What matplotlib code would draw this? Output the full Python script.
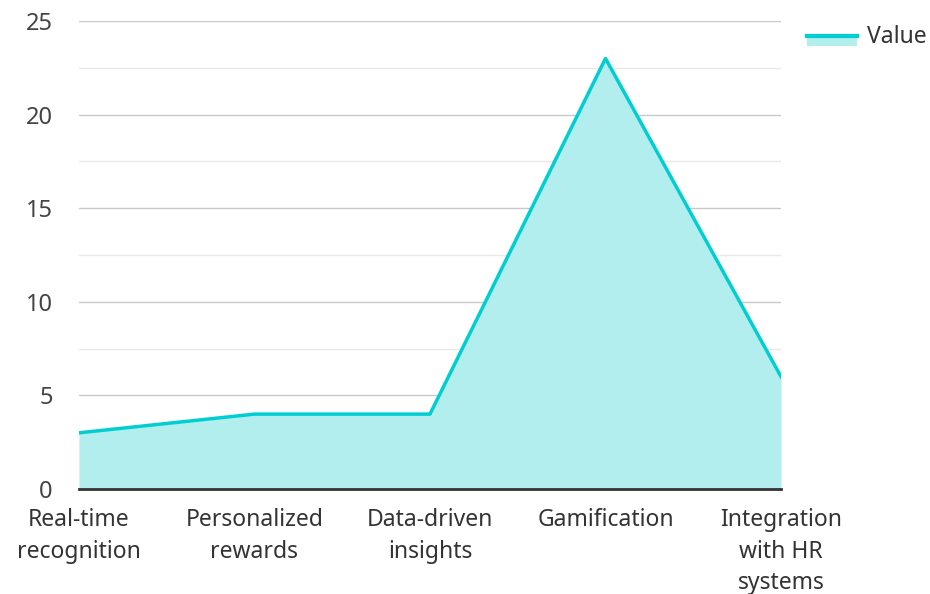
import matplotlib.pyplot as plt
from matplotlib.lines import Line2D
from matplotlib.patches import Patch, Rectangle

plt.rcParams['font.family'] = ['Noto Sans', 'DejaVu Sans']

categories = ["Real-time\nrecognition", "Personalized\nrewards", "Data-driven\ninsights",
              "Gamification", "Integration\nwith HR\nsystems"]
values = [3, 4, 4, 23, 6]

line_color = '#00CED1'
fill_color = '#B2EEEE'


class AreaHandler:
    # line on top, light fill below, like the area legend key
    def legend_artist(self, legend, orig_handle, fontsize, handlebox):
        x0, y0 = handlebox.xdescent, handlebox.ydescent
        w, h = handlebox.width, handlebox.height
        rect = Rectangle((x0, y0 - h * 0.2), w, h * 0.65, facecolor=fill_color,
                         edgecolor='none', transform=handlebox.get_transform())
        ln = Line2D([x0, x0 + w], [y0 + h * 0.45, y0 + h * 0.45], color=line_color,
                    linewidth=3, transform=handlebox.get_transform())
        handlebox.add_artist(rect)
        handlebox.add_artist(ln)
        return rect


fig = plt.figure(figsize=(9.3, 5.94), dpi=100)
ax = fig.add_axes([0.0849, 0.1768, 0.7549, 0.7878])

x = list(range(len(categories)))
ax.fill_between(x, values, 0, color=fill_color, linewidth=0, zorder=2)
ax.plot(x, values, color=line_color, linewidth=2.5, zorder=3)

ax.set_xlim(0, len(categories) - 1)
ax.set_ylim(0, 25)
ax.set_yticks([0, 5, 10, 15, 20, 25])
ax.set_yticks([2.5, 7.5, 12.5, 17.5, 22.5], minor=True)
ax.grid(axis='y', which='major', color='#c8c8c8', linewidth=1, zorder=1)
ax.grid(axis='y', which='minor', color='#e8e8e8', linewidth=1, zorder=1)
ax.set_xticks(x)
ax.set_xticklabels(categories, fontsize=16.5, color='#333333', linespacing=1.4)
ax.tick_params(axis='y', which='both', length=0, pad=19, labelsize=17, labelcolor='#444444')
ax.tick_params(axis='x', length=0, pad=14)

for s in ['left', 'right', 'top']:
    ax.spines[s].set_visible(False)
ax.spines['bottom'].set_color('#333333')
ax.spines['bottom'].set_linewidth(2)
ax.spines['bottom'].set_zorder(4)

fig.legend([Patch()], ['Value'], handler_map={Patch: AreaHandler()},
           loc='upper left', bbox_to_anchor=(0.8677, 0.958), frameon=False,
           borderpad=0, borderaxespad=0,
           fontsize=16.5, handlelength=2.2, handletextpad=0.4, labelcolor='#333333')

fig.savefig('out.png', dpi=100)
